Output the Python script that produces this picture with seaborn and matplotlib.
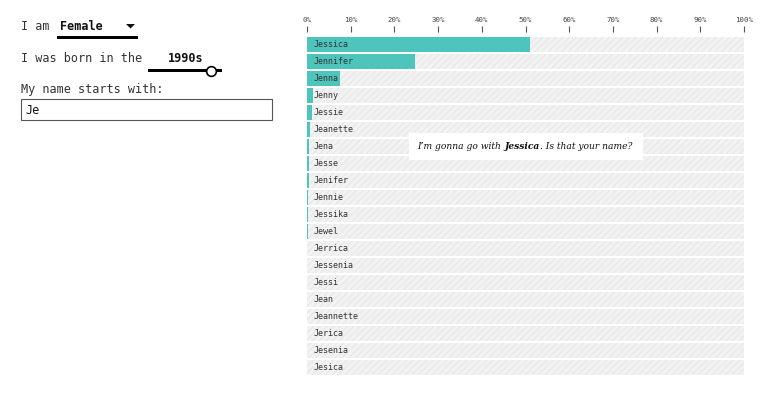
import seaborn as sns
import matplotlib.pyplot as plt
from matplotlib.patches import Rectangle, Polygon

# names starting with "Je", girls born in the 1990s (share of all "Je" names, %)
names = ["Jessica", "Jennifer", "Jenna", "Jenny", "Jessie", "Jeanette", "Jena",
         "Jesse", "Jenifer", "Jennie", "Jessika", "Jewel", "Jerrica", "Jessenia",
         "Jessi", "Jean", "Jeannette", "Jerica", "Jesenia", "Jesica"]
share = [51.0, 24.7, 7.5, 1.3, 1.2, 0.6, 0.4, 0.4, 0.35, 0.3, 0.3, 0.25,
         0.1, 0.1, 0.1, 0.08, 0.08, 0.07, 0.06, 0.05]
full = [100] * len(names)
ticks = list(range(0, 101, 10))
tick_labels = [f"{t}%" for t in ticks]

teal = "#4dc4bc"
mono = "DejaVu Sans Mono"

sns.set_theme(style="white")
plt.rcParams["hatch.linewidth"] = 0.6

fig = plt.figure(figsize=(7.68, 3.98), dpi=100)
ax = fig.add_axes([307 / 768, 1 - 376 / 398, 437 / 768, 340 / 398])

# hatched background rows
sns.barplot(x=full, y=names, orient="h", color="#f2f2f2", width=0.94,
            hatch="/////", ax=ax)
for p in ax.patches:
    p.set_facecolor("#f2f2f2")
    p.set_edgecolor("#e5e5e5")
    p.set_linewidth(0)
n_bg = len(ax.patches)
sns.barplot(x=share, y=names, orient="h", color=teal, width=0.94,
            saturation=1, ax=ax)
for p in ax.patches[n_bg:]:
    p.set_hatch(None)
    p.set_linewidth(0)

for i, nm in enumerate(names):
    ax.text(1.4, i, nm, family=mono, fontsize=6, color="#333333",
            va="center", ha="left")

ax.set_xlim(0, 100)
ax.set_ylim(len(names) - 0.5, -0.5)
ax.set_yticks([])
ax.set_ylabel("")
ax.set_xlabel("")
ax.spines["top"].set_position(("outward", 3))
for s in ax.spines.values():
    s.set_visible(False)
ax.xaxis.tick_top()
ax.set_xticks(ticks)
ax.set_xticklabels(tick_labels, family=mono, fontsize=5.3, color="#444444")
ax.tick_params(axis="x", top=True, bottom=False, length=4, width=0.8,
               color="#555555", pad=2, direction="out")

# tooltip
ax.add_patch(Rectangle((409 / 768, 1 - 160 / 398), 234 / 768, 27 / 398,
                       transform=fig.transFigure, fc="white", ec="none",
                       zorder=5))
tip = ax.text(25.3, 6.0, "I\u2019m gonna go with ", family="DejaVu Serif",
              style="italic", fontsize=6.6, color="#111111", va="center",
              ha="left", zorder=6)
t2 = ax.annotate("Jessica", xy=(1, 0), xycoords=tip, va="bottom", ha="left",
                 family="DejaVu Serif", style="italic", weight="bold",
                 fontsize=6.6, color="#111111", zorder=6)
ax.annotate(". Is that your name?", xy=(1, 0), xycoords=t2, va="bottom",
            ha="left", family="DejaVu Serif", style="italic", fontsize=6.6,
            color="#111111", zorder=6)

# left-side controls
fs = 8.5
fig.text(21 / 768, 1 - 26 / 398, "I am", family=mono, fontsize=fs,
         color="#333333", va="center")
fig.text(60 / 768, 1 - 26 / 398, "Female", family=mono, fontsize=fs,
         weight="bold", color="#111111", va="center")
fig.patches.append(Rectangle((57 / 768, 1 - 39 / 398), 81 / 768, 3 / 398,
                             transform=fig.transFigure, fc="black", ec="none"))
fig.patches.append(Polygon([(126 / 768, 1 - 24 / 398), (135 / 768, 1 - 24 / 398),
                            (130.5 / 768, 1 - 28.5 / 398)], closed=True,
                           transform=fig.transFigure, fc="#111111", ec="none"))

fig.text(21 / 768, 1 - 58 / 398, "I was born in the", family=mono, fontsize=fs,
         color="#333333", va="center")
fig.text(186 / 768, 1 - 58 / 398, "1990s", family=mono, fontsize=fs,
         weight="bold", color="#111111", va="center", ha="center")
fig.patches.append(Rectangle((148 / 768, 1 - 72 / 398), 74 / 768, 3.5 / 398,
                             transform=fig.transFigure, fc="black", ec="none"))
fig.add_artist(plt.Line2D([211 / 768], [1 - 70.5 / 398], marker="o",
                          markersize=7, markerfacecolor="white",
                          markeredgecolor="black", markeredgewidth=1.2,
                          transform=fig.transFigure))

fig.text(21 / 768, 1 - 89 / 398, "My name starts with:", family=mono,
         fontsize=fs, color="#333333", va="center")
fig.patches.append(Rectangle((21 / 768, 1 - 120 / 398), 251 / 768, 21 / 398,
                             transform=fig.transFigure, fc="white",
                             ec="#555555", lw=0.8))
fig.text(25 / 768, 1 - 110 / 398, "Je", family=mono, fontsize=fs,
         color="#111111", va="center")

fig.savefig("out.png", dpi=100, facecolor="white")
